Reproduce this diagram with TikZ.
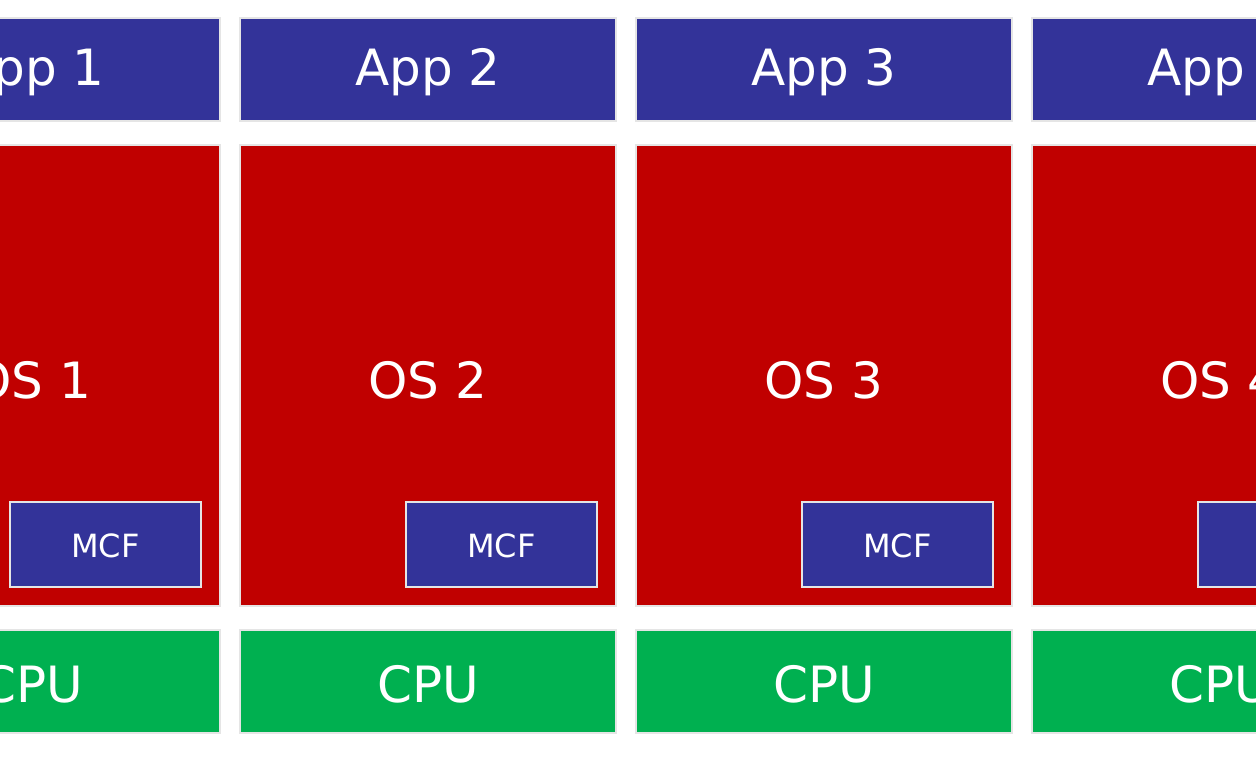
\documentclass[tikz,border=0pt]{standalone}
\usepackage{fontspec}
\setmainfont{DejaVu Sans}
\definecolor{appblue}{HTML}{333399}
\definecolor{osred}{HTML}{C00000}
\definecolor{cpugreen}{HTML}{00B050}
\begin{document}
\begin{tikzpicture}[x=1pt,y=-1pt,
  blk/.style={draw=white!80!gray,line width=1.5pt,inner sep=0},
  lab/.style={text=white,font=\fontsize{50}{56}\selectfont},
  small/.style={text=white,font=\fontsize{32}{36}\selectfont}]
\useasboundingbox (0,0) rectangle (1256,756);
\clip (0,0) rectangle (1256,756);
\fill[white] (0,0) rectangle (1256,756);
\foreach \i/\n in {0/1,1/2,2/3,3/4}{
  \pgfmathsetmacro{\xo}{-156+396*\i}
  \begin{scope}[shift={(\xo,0)}]
  \draw[blk,fill=appblue] (0,18) rectangle (376,121);
  \node[lab] (app\n) at (188,72) {App \n};
  \draw[blk,fill=osred] (0,145) rectangle (376,606);
  \node[lab] (os\n) at (188,380) {OS \n};
  \draw[blk,fill=appblue] (166,502) rectangle (357,587);
  \node[small] (mcf\n) at (261.5,546) {MCF};
  \draw[blk,fill=cpugreen] (0,630) rectangle (376,733);
  \node[lab] (cpu\n) at (188,684) {CPU};
  \end{scope}
}
\end{tikzpicture}
\end{document}
